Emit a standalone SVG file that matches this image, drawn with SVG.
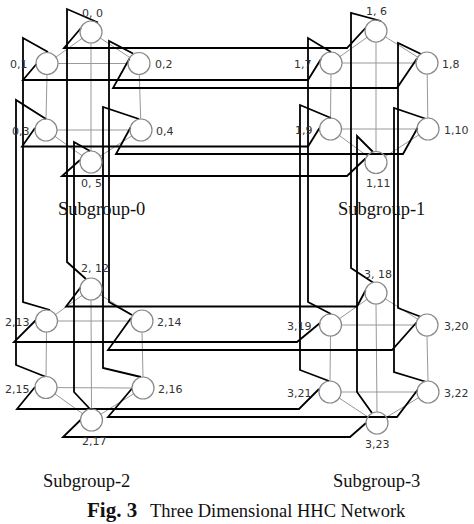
<svg xmlns="http://www.w3.org/2000/svg" width="474" height="524" viewBox="0 0 474 524">
<style>
.bg{fill:#fff}
.e{stroke:#999;stroke-width:1;fill:none}
.l{stroke:#000;stroke-width:1.8;fill:none;stroke-linejoin:miter}
.n circle{fill:none;stroke:#888;stroke-width:1.2}
.n text{font-family:"DejaVu Sans",sans-serif;font-size:11px;fill:#333}
.s{font-family:"Liberation Serif",serif;font-size:18.5px;fill:#111}
.c{font-family:"Liberation Serif",serif;fill:#111}
</style>
<rect class="bg" x="0" y="0" width="474" height="524"/>
<g id="connectors">
<g id="edges">
<line class="e" x1="82.06" y1="38.4" x2="55.94" y2="57.1"/>
<line class="e" x1="100.2" y1="38.04" x2="129.8" y2="57.46"/>
<line class="e" x1="58" y1="63.5" x2="128" y2="63.5"/>
<line class="e" x1="47" y1="74.5" x2="46" y2="119"/>
<line class="e" x1="139.3" y1="74.5" x2="140.7" y2="119"/>
<line class="e" x1="57" y1="130" x2="130" y2="130"/>
<line class="e" x1="91" y1="43" x2="91" y2="151"/>
<line class="e" x1="54.96" y1="136.37" x2="82.04" y2="155.63"/>
<line class="e" x1="131.73" y1="135.93" x2="100.27" y2="156.07"/>

<line class="e" x1="367.04" y1="37.37" x2="339.96" y2="56.63"/>
<line class="e" x1="385.32" y1="36.85" x2="417.68" y2="57.15"/>
<line class="e" x1="342" y1="63" x2="416" y2="63"/>
<line class="e" x1="331" y1="74" x2="330.5" y2="118"/>
<line class="e" x1="427.2" y1="74" x2="427.8" y2="118"/>
<line class="e" x1="341.5" y1="129" x2="417" y2="129"/>
<line class="e" x1="376" y1="42" x2="376" y2="151.5"/>
<line class="e" x1="339.36" y1="135.52" x2="367.14" y2="155.98"/>
<line class="e" x1="418.75" y1="134.96" x2="385.25" y2="156.54"/>

<line class="e" x1="82.07" y1="295.42" x2="55.43" y2="314.58"/>
<line class="e" x1="100.32" y1="294.85" x2="132.68" y2="315.15"/>
<line class="e" x1="57.5" y1="321" x2="131" y2="321"/>
<line class="e" x1="46.5" y1="332" x2="46" y2="376.5"/>
<line class="e" x1="142" y1="332" x2="143" y2="377"/>
<line class="e" x1="57" y1="387.6" x2="132" y2="388"/>
<line class="e" x1="91" y1="300" x2="91.5" y2="409"/>
<line class="e" x1="54.95" y1="393.89" x2="82.55" y2="413.61"/>
<line class="e" x1="133.66" y1="393.81" x2="100.84" y2="414.19"/>

<line class="e" x1="367" y1="299.33" x2="339.5" y2="318.67"/>
<line class="e" x1="385.32" y1="298.85" x2="417.68" y2="319.15"/>
<line class="e" x1="341.5" y1="325" x2="416" y2="325"/>
<line class="e" x1="330.5" y1="336" x2="330" y2="381"/>
<line class="e" x1="427" y1="336" x2="428" y2="381"/>
<line class="e" x1="341" y1="392" x2="417" y2="392"/>
<line class="e" x1="376" y1="304" x2="377" y2="412"/>
<line class="e" x1="339.18" y1="398.06" x2="367.82" y2="416.94"/>
<line class="e" x1="418.6" y1="397.71" x2="386.4" y2="417.29"/>
</g>
<g id="links">
<polyline class="l" points="98,22.5 67,9 67,262 86,279"/>
<polyline class="l" points="48,52 23,38 23,302 50,310"/>
<polyline class="l" points="133,53.5 109,41 109,302 132,315"/>
<polyline class="l" points="46,119 16,100 16,365 45,376.5"/>
<polyline class="l" points="139,119 103,107 103,368 141,377"/>
<polyline class="l" points="90,151 74,142 74,392 90,409"/>
<polyline class="l" points="381,21 351,13 351,268 373,282.5"/>
<polyline class="l" points="331,52 308,38 308,302 331,314"/>
<polyline class="l" points="421,54 398,43 398,308 420,316.5"/>
<polyline class="l" points="331,118 300,105 300,370 329,381"/>
<polyline class="l" points="425,118.5 394,108 394,372 425,381.5"/>
<polyline class="l" points="373,152 357,136 357,392 372,413"/>
<polyline class="l" points="81,28 64,48 347,48 365.5,28"/>
<polyline class="l" points="36.5,64 23,80 308,80 321,59"/>
<polyline class="l" points="129.5,58.5 113,88 397,88 417,58.5"/>
<polyline class="l" points="35,128 22,146.5 308,146.5 319.5,128"/>
<polyline class="l" points="130.5,127.5 116,154 403,154 417.5,128"/>
<polyline class="l" points="80,160 62,176 347,176 365.5,158.5"/>
<polyline class="l" points="80.5,287.5 66,306.5 357,306.5 365.5,290.5"/>
<polyline class="l" points="35.5,320.5 14,342 297,342 320,323"/>
<polyline class="l" points="131,318 108,350 392,350 416.5,322.5"/>
<polyline class="l" points="35,387 17,409 299,409 319,389"/>
<polyline class="l" points="132,388.5 108,417 397,417 417.5,390"/>
<polyline class="l" points="80.5,420 63,437 350,437 366,423"/>
</g>
</g>
<g id="nodes">
<g id="n0_0" class="n"><circle cx="91" cy="32" r="11"/><text x="82" y="17">0, 0</text></g>
<g id="n0_1" class="n"><circle cx="47" cy="63.5" r="11"/><text x="10" y="68">0,1</text></g>
<g id="n0_2" class="n"><circle cx="139" cy="63.5" r="11"/><text x="155" y="68">0,2</text></g>
<g id="n0_3" class="n"><circle cx="46" cy="130" r="11"/><text x="12" y="135">0,3</text></g>
<g id="n0_4" class="n"><circle cx="141" cy="130" r="11"/><text x="156" y="135">0,4</text></g>
<g id="n0_5" class="n"><circle cx="91" cy="162" r="11"/><text x="81" y="187">0, 5</text></g>
<g id="n1_6" class="n"><circle cx="376" cy="31" r="11"/><text x="366" y="15">1, 6</text></g>
<g id="n1_7" class="n"><circle cx="331" cy="63" r="11"/><text x="294" y="68">1,7</text></g>
<g id="n1_8" class="n"><circle cx="427" cy="63" r="11"/><text x="442" y="68">1,8</text></g>
<g id="n1_9" class="n"><circle cx="330.5" cy="129" r="11"/><text x="295" y="134">1,9</text></g>
<g id="n1_10" class="n"><circle cx="428" cy="129" r="11"/><text x="444" y="134">1,10</text></g>
<g id="n1_11" class="n"><circle cx="376" cy="162.5" r="11"/><text x="366" y="187">1,11</text></g>
<g id="n2_12" class="n"><circle cx="91" cy="289" r="11"/><text x="81" y="272">2, 12</text></g>
<g id="n2_13" class="n"><circle cx="46.5" cy="321" r="11"/><text x="5" y="326">2,13</text></g>
<g id="n2_14" class="n"><circle cx="142" cy="321" r="11"/><text x="157" y="326">2,14</text></g>
<g id="n2_15" class="n"><circle cx="46" cy="387.5" r="11"/><text x="5" y="393">2,15</text></g>
<g id="n2_16" class="n"><circle cx="143" cy="388" r="11"/><text x="158" y="393">2,16</text></g>
<g id="n2_17" class="n"><circle cx="91.5" cy="420" r="11"/><text x="82" y="445">2,17</text></g>
<g id="n3_18" class="n"><circle cx="376" cy="293" r="11"/><text x="364" y="278">3, 18</text></g>
<g id="n3_19" class="n"><circle cx="330.5" cy="325" r="11"/><text x="287" y="330">3,19</text></g>
<g id="n3_20" class="n"><circle cx="427" cy="325" r="11"/><text x="444" y="330">3,20</text></g>
<g id="n3_21" class="n"><circle cx="330" cy="392" r="11"/><text x="287" y="397">3,21</text></g>
<g id="n3_22" class="n"><circle cx="428" cy="392" r="11"/><text x="444" y="397">3,22</text></g>
<g id="n3_23" class="n"><circle cx="377" cy="423" r="11"/><text x="365" y="448">3,23</text></g>
</g>
<g id="labels">
<text class="s" x="58" y="215">Subgroup-0</text>
<text class="s" x="338" y="215">Subgroup-1</text>
<text class="s" x="43" y="487">Subgroup-2</text>
<text class="s" x="333" y="487">Subgroup-3</text>
<text class="c" y="517"><tspan x="87" font-weight="bold" font-size="21">Fig. 3</tspan><tspan x="150" font-size="18.5">Three Dimensional HHC Network</tspan></text>
</g>
</svg>
